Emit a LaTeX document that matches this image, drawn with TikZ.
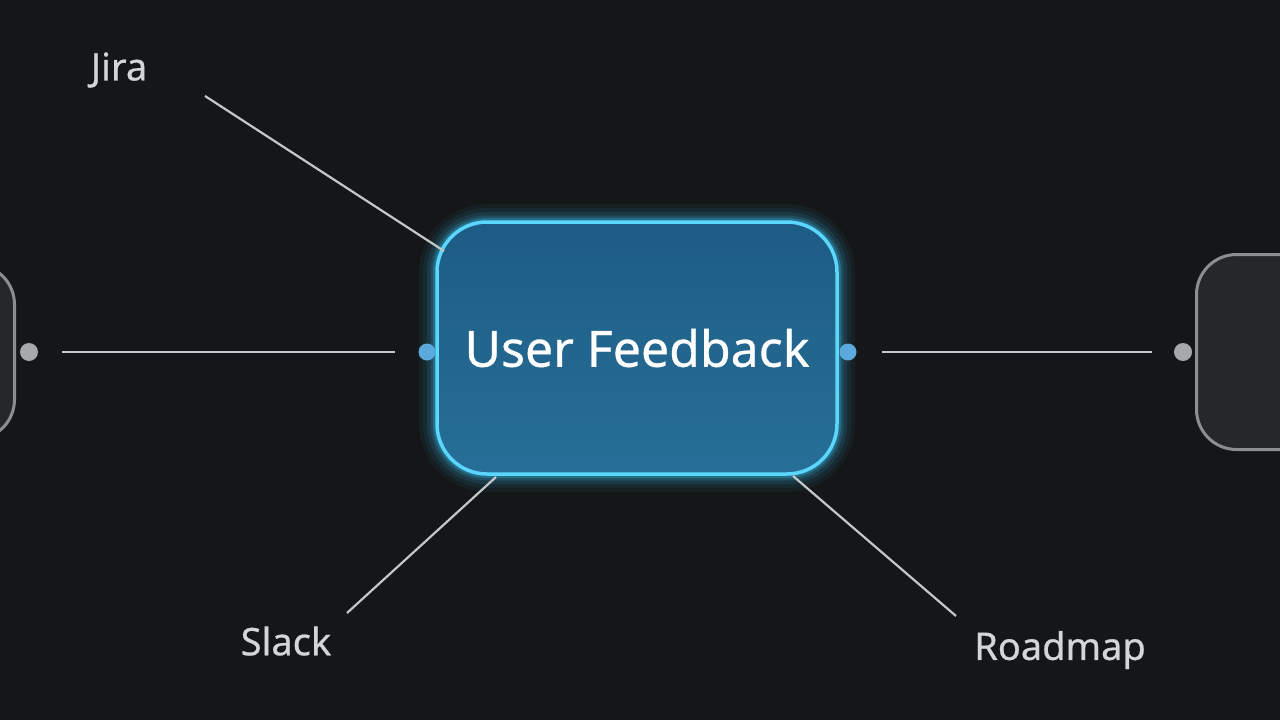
\documentclass[tikz,border=0pt]{standalone}
\usepackage{fontspec}
\setmainfont{Noto Sans}[FakeBold=0.6]
\usetikzlibrary{positioning}
\definecolor{bg}{HTML}{151617}
\definecolor{linec}{HTML}{C4C6C8}
\definecolor{glowc}{HTML}{3CC8FF}
\definecolor{edgec}{HTML}{5AD6FF}
\definecolor{fillA}{HTML}{1D5C84}
\definecolor{fillB}{HTML}{276F98}
\definecolor{sidefill}{HTML}{262728}
\definecolor{sidedraw}{HTML}{8C8E90}
\definecolor{labc}{HTML}{D4D5D6}
\definecolor{bdot}{HTML}{5BA9DA}
\tikzset{
  x=1pt,y=-1pt,
  conn/.style={draw=linec,line width=2.2pt},
  lab/.style={text=labc,font=\fontsize{38}{44}\selectfont,inner sep=0pt},
  sidebox/.style={draw=sidedraw,fill=sidefill,line width=3pt,rounded corners=40pt,minimum width=200pt},
  dotb/.style={circle,fill=bdot,inner sep=0pt,minimum size=17pt},
  dotg/.style={circle,fill=linec!85!black,inner sep=0pt,minimum size=18pt},
}
\begin{document}
\begin{tikzpicture}
\fill[bg] (0,0) rectangle (1280,720);
\useasboundingbox (0,0) rectangle (1280,720);
% side nodes
\node[sidebox,minimum height=175pt,anchor=east] (left) at (16,352) {};
\node[sidebox,minimum height=195pt,anchor=west] (right) at (1195,352) {};
% glow
\foreach \w/\o in {36/0.05,28/0.07,20/0.1,13/0.15,8/0.25}{
  \draw[glowc,line width=\w pt,opacity=\o,rounded corners=50pt] (437,222) rectangle (837,474);
}
\node[draw=edgec,line width=3.5pt,rounded corners=50pt,minimum width=400pt,minimum height=252pt,
  top color=fillA,bottom color=fillB,text=white,font=\fontsize{50}{58}\selectfont] (main) at (637,348) {User Feedback};
% dots
\node[dotb] (dl) at (427,352) {};
\node[dotb] (dr) at (848,352) {};
\node[dotg] (gl) at (29,352) {};
\node[dotg] (gr) at (1183,352) {};
% connector ends
\coordinate (l1) at (62,352);
\coordinate (l2) at (395,352);
\coordinate (r1) at (882,352);
\coordinate (r2) at (1152,352);
\draw[conn] (l1) -- (l2);
\draw[conn] (r1) -- (r2);
% labels
\node[lab] (jira) at (119,70) {Jira};
\node[lab] (slack) at (286,641) {Slack};
\node[lab] (road) at (1060,650) {Roadmap};
\coordinate (j1) at (205,96);
\coordinate (s1) at (347,613);
\coordinate (m1) at (956,616);
\draw[conn] (j1) -- (444,251);
\draw[conn] (s1) -- (496,477);
\draw[conn] (m1) -- (793,476);
\end{tikzpicture}
\end{document}
